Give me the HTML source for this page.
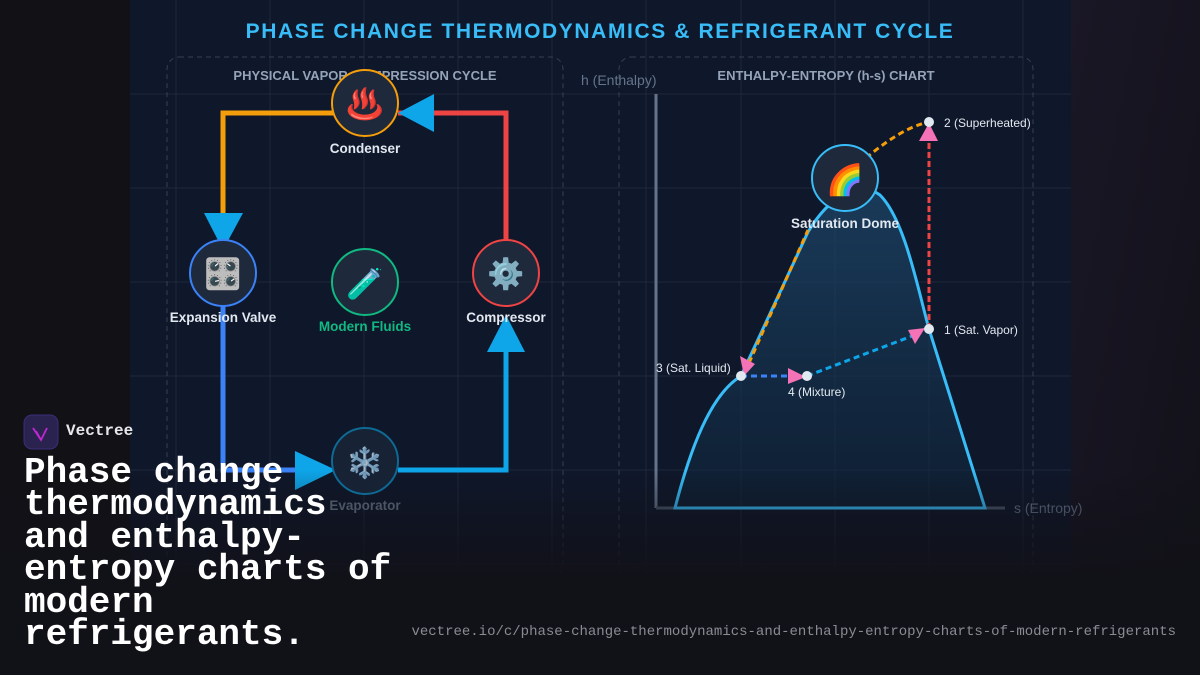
<!DOCTYPE html>
<html><head><meta charset="utf-8"><style>
*{margin:0;padding:0}
body{width:1200px;height:675px;overflow:hidden;background:#121118;font-family:"Liberation Sans",sans-serif;position:relative}
.t{position:absolute}
</style></head><body>
<svg width="1200" height="675" style="position:absolute;left:0;top:0">
<defs>
<linearGradient id="dome" x1="0" y1="0" x2="0" y2="1"><stop offset="0" stop-color="#1e4a6e" stop-opacity=".7"/><stop offset="1" stop-color="#0e2338" stop-opacity=".6"/></linearGradient>
<linearGradient id="fade" x1="0" y1="0" x2="0" y2="1"><stop offset="0" stop-color="#111118" stop-opacity="0"/><stop offset="1" stop-color="#111118" stop-opacity="1"/></linearGradient>
<linearGradient id="side" x1="0" y1="0" x2="1" y2="1"><stop offset="0" stop-color="#1a1726"/><stop offset="1" stop-color="#121118"/></linearGradient>
</defs>
<rect x="1071" y="0" width="129" height="675" fill="url(#side)"/>
<rect x="0" y="0" width="130" height="675" fill="#111116"/>
<rect x="130" y="0" width="941" height="675" fill="#0f172a"/>
<g stroke="#1e293b" stroke-width="1">
<line x1="176" y1="0" x2="176" y2="675"/><line x1="270" y1="0" x2="270" y2="675"/><line x1="364" y1="0" x2="364" y2="675"/><line x1="458" y1="0" x2="458" y2="675"/><line x1="552" y1="0" x2="552" y2="675"/><line x1="646" y1="0" x2="646" y2="675"/><line x1="741" y1="0" x2="741" y2="675"/><line x1="835" y1="0" x2="835" y2="675"/><line x1="929" y1="0" x2="929" y2="675"/><line x1="1023" y1="0" x2="1023" y2="675"/>
<line x1="130" y1="94" x2="1071" y2="94"/><line x1="130" y1="188" x2="1071" y2="188"/><line x1="130" y1="282" x2="1071" y2="282"/><line x1="130" y1="376" x2="1071" y2="376"/><line x1="130" y1="470" x2="1071" y2="470"/><line x1="130" y1="564" x2="1071" y2="564"/>
</g>
<rect x="167" y="57" width="396" height="520" rx="12" fill="none" stroke="#334155" stroke-dasharray="5 4"/>
<rect x="619" y="57" width="414" height="520" rx="12" fill="none" stroke="#334155" stroke-dasharray="5 4"/>
<text x="600" y="38" text-anchor="middle" fill="#38bdf8" font-size="21" font-weight="bold" letter-spacing="1.6">PHASE CHANGE THERMODYNAMICS &amp; REFRIGERANT CYCLE</text>
<text x="365" y="80" text-anchor="middle" fill="#94a3b8" font-size="13" font-weight="bold">PHYSICAL VAPOR COMPRESSION CYCLE</text>
<text x="826" y="80" text-anchor="middle" fill="#94a3b8" font-size="13" font-weight="bold">ENTHALPY-ENTROPY (h-s) CHART</text>
<path d="M365 113 H223 V240" fill="none" stroke="#f59e0b" stroke-width="5"/>
<path d="M506 240 V113 H398" fill="none" stroke="#ef4444" stroke-width="5"/>
<path d="M223 306 V470 H330" fill="none" stroke="#3b82f6" stroke-width="5"/>
<path d="M398 470 H506 V340" fill="none" stroke="#0ea5e9" stroke-width="5"/>
<polygon points="398,113 434,94 434,132" fill="#0ea5e9"/>
<polygon points="204,213 243,213 223,250" fill="#0ea5e9"/>
<polygon points="487,352 525,352 506,315" fill="#0ea5e9"/>
<polygon points="295,451 295,490 336,470" fill="#0ea5e9"/>
<line x1="656" y1="94" x2="656" y2="508" stroke="#64748b" stroke-width="3"/>
<line x1="656" y1="508" x2="1005" y2="508" stroke="#475569" stroke-width="3"/>
<text x="581" y="85" fill="#64748b" font-size="14">h (Enthalpy)</text>
<text x="1014" y="513" fill="#64748b" font-size="14">s (Entropy)</text>
<path d="M675 508 C690 450 710 395 741 376 L808 232 C830 195 860 180 880 195 C905 220 918 290 929 329 L985 508 Z" fill="url(#dome)" stroke="#38bdf8" stroke-width="3"/>
<path d="M745 372 L808 230 M866 158 C890 138 910 126 929 122" fill="none" stroke="#f59e0b" stroke-width="3" stroke-dasharray="6 4"/>
<line x1="929" y1="329" x2="929" y2="135" stroke="#ef4444" stroke-width="3" stroke-dasharray="6 3"/>
<line x1="741" y1="376" x2="800" y2="376" stroke="#3b82f6" stroke-width="3" stroke-dasharray="6 4"/>
<line x1="807" y1="376" x2="920" y2="333" stroke="#0ea5e9" stroke-width="3" stroke-dasharray="6 4"/>
<g fill="#f472b6">
<polygon points="919,141 938,141 929,123"/>
<polygon points="740,356 755,364 744,376"/>
<polygon points="788,368 788,384 806,377"/>
<polygon points="908,330 925,328 915,344"/>
</g>
<g fill="#e2e8f0"><circle cx="929" cy="122" r="5"/><circle cx="929" cy="329" r="5"/><circle cx="741" cy="376" r="5"/><circle cx="807" cy="376" r="5"/></g>
<g font-size="12" fill="#e2e8f0">
<text x="944" y="127">2 (Superheated)</text><text x="944" y="334">1 (Sat. Vapor)</text><text x="656" y="372">3 (Sat. Liquid)</text><text x="788" y="396">4 (Mixture)</text>
</g>
<rect x="0" y="470" width="1200" height="110" fill="url(#fade)"/>
<rect x="0" y="580" width="1200" height="95" fill="#111118"/>
<g stroke-width="2" fill="#1e293b">
<circle cx="365" cy="103" r="33" stroke="#f59e0b"/>
<circle cx="223" cy="273" r="33" stroke="#3b82f6"/>
<circle cx="365" cy="282" r="33" stroke="#10b981"/>
<circle cx="506" cy="273" r="33" stroke="#ef4444"/>
<circle cx="365" cy="461" r="33" stroke="#0e6a94" fill="#172235"/>
<circle cx="845" cy="178" r="33" stroke="#38bdf8"/>
</g>
<g font-size="30" text-anchor="middle" font-family="sans-serif">
<text x="365" y="114">♨️</text><text x="223" y="284">🎛️</text><text x="365" y="294">🧪</text><text x="506" y="284">⚙️</text><text x="365" y="473" opacity=".7">❄️</text><text x="845" y="190">🌈</text>
</g>
<g font-size="13.5" font-weight="bold" text-anchor="middle" fill="#e2e8f0">
<text x="365" y="153">Condenser</text><text x="223" y="322">Expansion Valve</text><text x="506" y="322">Compressor</text><text x="365" y="510" fill="#4b5563">Evaporator</text><text x="365" y="331" fill="#10b981">Modern Fluids</text><text x="845" y="228">Saturation Dome</text>
</g>
<rect x="24" y="415" width="34" height="34" rx="8" fill="#2a2350" stroke="#3b2f7a"/>
<path d="M33 428 L41 440 L47 428 M36 431 L41 440 M45 431" stroke="#c026d3" stroke-width="1.8" fill="none"/>
</svg>
<div class="t" style="left:66px;top:422px;color:#e5e7eb;font:bold 16px 'Liberation Mono',monospace">Vectree</div>
<div class="t" style="left:24px;top:457px;width:380px;color:#fff;font:bold 36px/32.4px 'Liberation Mono',monospace">Phase change thermodynamics and enthalpy-entropy charts of modern refrigerants.</div>
<div class="t" style="right:24px;top:624px;color:#8b8b94;font:14px 'Liberation Mono',monospace">vectree.io/c/phase-change-thermodynamics-and-enthalpy-entropy-charts-of-modern-refrigerants</div>
</body></html>
